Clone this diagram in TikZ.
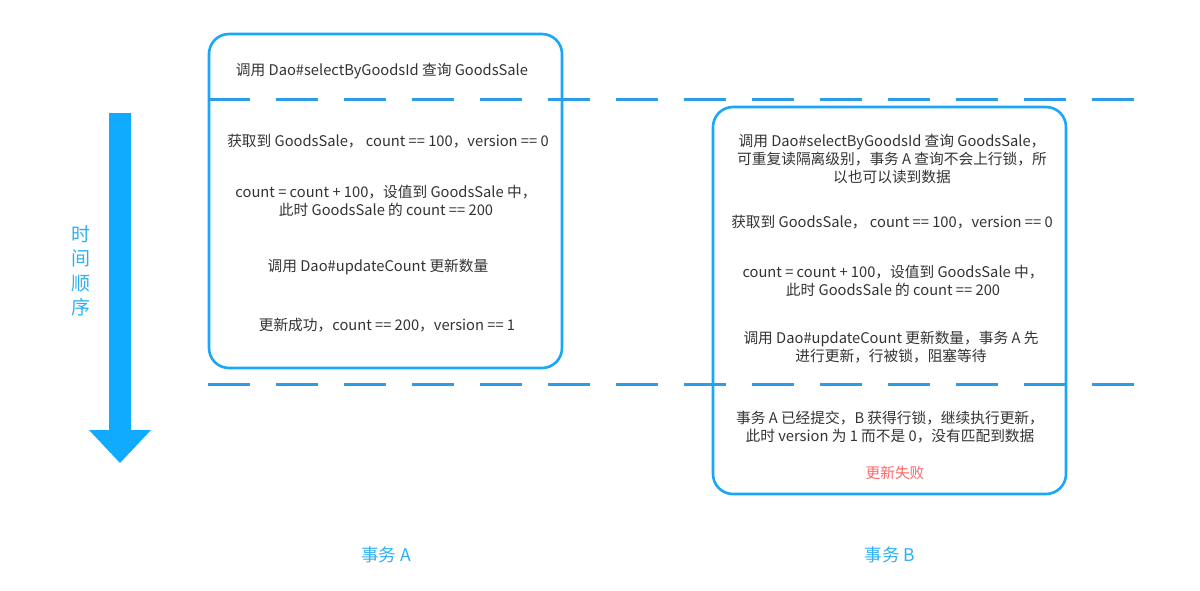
\documentclass[tikz,border=0pt]{standalone}
\usepackage{fontspec}
\setmainfont{Noto Sans CJK SC}
\usetikzlibrary{positioning}

\definecolor{boxblue}{HTML}{1AA7F7}
\definecolor{dashblue}{HTML}{2A9DE4}
\definecolor{arrowblue}{HTML}{10AAFF}
\definecolor{labelblue}{HTML}{2EB0F5}
\definecolor{txtgray}{HTML}{333333}
\definecolor{failred}{HTML}{FF6666}

\tikzset{
  tbox/.style={draw=boxblue, line width=2.6pt, rounded corners=20pt, minimum width=353pt},
  note/.style={text=txtgray, align=center, inner sep=0pt, font=\fontsize{14.7}{18}\selectfont},
  dashline/.style={draw=dashblue, line width=3pt, dash pattern=on 42pt off 26pt},
  tlabel/.style={text=labelblue, inner sep=0pt, font=\fontsize{17.5}{20}\selectfont}
}

\begin{document}
\begin{tikzpicture}[x=1pt, y=-1pt]
\useasboundingbox (0,0) rectangle (1200,590);
\fill[white] (0,0) rectangle (1200,590);

% 两个事务的框
\node[tbox, minimum height=334pt] (boxA) at (385.5,201) {};
\node[tbox, minimum height=387pt] (boxB) at (889.5,300.5) {};

% 时间分隔虚线
\coordinate (d1s) at (208,99);  \coordinate (d1e) at (1136,99);
\coordinate (d2s) at (208,384); \coordinate (d2e) at (1136,384);
\draw[dashline] (d1s) -- (d1e);
\draw[dashline] (d2s) -- (d2e);

% 时间箭头
\fill[arrowblue] (109,113) -- (131,113) -- (131,430) -- (151,430) -- (120,463)
  -- (89,430) -- (109,430) -- cycle;
\node[text=labelblue, align=center, inner sep=0pt, font=\fontsize{19}{24.5}\selectfont] (time) at (81,271) {时\\间\\顺\\序};

% 事务 A
\node[note] (a1) at (382,71) {调用 Dao\#selectByGoodsId 查询 GoodsSale};
\node[note] (a2) at (388,141) {获取到 GoodsSale， count == 100，version == 0};
\node[note] (a3) at (386,201) {count = count + 100，设值到 GoodsSale 中，\\此时 GoodsSale 的 count == 200};
\node[note] (a4) at (378,267) {调用 Dao\#updateCount 更新数量};
\node[note] (a5) at (387,325) {更新成功，count == 200，version == 1};

% 事务 B
\node[note] (b1) at (892,159) {调用 Dao\#selectByGoodsId 查询 GoodsSale，\\可重复读隔离级别，事务 A 查询不会上行锁，所\\以也可以读到数据};
\node[note] (b2) at (892,222) {获取到 GoodsSale， count == 100，version == 0};
\node[note] (b3) at (893,281) {count = count + 100，设值到 GoodsSale 中，\\此时 GoodsSale 的 count == 200};
\node[note] (b4) at (891,347) {调用 Dao\#updateCount 更新数量，事务 A 先\\进行更新，行被锁，阻塞等待};
\node[note] (b5) at (890,427) {事务 A 已经提交，B 获得行锁，继续执行更新，\\此时 version 为 1 而不是 0，没有匹配到数据};
\node[note, text=failred] (b6) at (895,473) {更新失败};

% 底部标签
\node[tlabel] (la) at (386,555) {事务 A};
\node[tlabel] (lb) at (890,555) {事务 B};
\end{tikzpicture}
\end{document}
